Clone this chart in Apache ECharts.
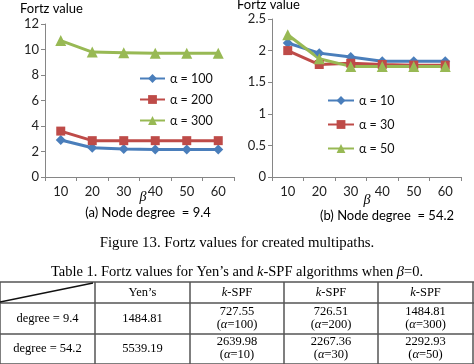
<!DOCTYPE html>
<html><head><meta charset="utf-8">
<script src="https://cdn.jsdelivr.net/npm/echarts@6/dist/echarts.min.js"></script>
<style>html,body{margin:0;padding:0;background:#fff}#c{width:474px;height:364px}</style>
</head><body><div id="c"></div>
<script>
const betas = ['10','20','30','40','50','60'];
const leftNames = ['α = 100','α = 200','α = 300'];
const leftA100 = [2.9, 2.3, 2.2, 2.15, 2.15, 2.15];
const leftA200 = [3.6, 2.85, 2.85, 2.85, 2.85, 2.85];
const leftA300 = [10.7, 9.8, 9.75, 9.7, 9.7, 9.7];
const rightNames = ['α = 10','α = 30','α = 50'];
const rightA10 = [2.12, 1.96, 1.9, 1.83, 1.83, 1.83];
const rightA30 = [2.0, 1.78, 1.8, 1.78, 1.77, 1.77];
const rightA50 = [2.25, 1.87, 1.75, 1.75, 1.75, 1.75];
const tableHead = ['', 'Yen’s', 'k-SPF', 'k-SPF', 'k-SPF'];
const rowLabels = ['degree = 9.4', 'degree = 54.2'];
const yensVals = ['1484.81', '5539.19'];
const kspfVals = [['727.55','726.51','1484.81'],['2639.98','2267.36','2292.93']];
const kspfAlphas = [['α=100','α=200','α=300'],['α=10','α=30','α=50']];

const colors = ['#4a7ebb', '#be4b48', '#98b954'];
const symbols = ['diamond', 'rect', 'triangle'];
const sans = 'Lato, "Open Sans", sans-serif';
const serif = '"Liberation Serif", "DejaVu Serif", serif';
const tf = '12.5px ';

function mkSeries(name, data, i, idx) {
  return {type:'line', name, data, xAxisIndex: idx, yAxisIndex: idx, color: colors[i],
    symbol: symbols[i], symbolSize: i===1?9:(i===2?11:10), lineStyle:{width:3}, itemStyle:{color: colors[i]},
    animation:false};
}
const axisCommon = {
  axisLine:{show:true, lineStyle:{color:'#868686', width:1}},
  axisTick:{show:true, length:4, lineStyle:{color:'#868686'}},
  splitLine:{show:false},
  axisLabel:{color:'#222', fontFamily:sans, fontSize:13}
};
const xAx = (gi) => Object.assign({type:'category', gridIndex:gi, data:betas, boundaryGap:true}, JSON.parse(JSON.stringify(axisCommon)));
const yAx = (gi, max, interval) => { const o = Object.assign({type:'value', gridIndex:gi, min:0, max, interval}, JSON.parse(JSON.stringify(axisCommon))); o.axisLabel.margin=6; return o; };

const tableTop = 282, rowH = [21, 31, 30];
const colX = [0, 95, 190, 284, 378, 473];
const gfx = [];
function txt(x, y, s, opt) {
  gfx.push({type:'text', x, y, style:Object.assign({text:s, fill:'#000', font:tf+serif, textAlign:'center', textVerticalAlign:'middle'}, opt||{})});
}
function rich(x, y, s, size) {
  gfx.push({type:'text', x, y, style:{rich:{n:{font:size+'px '+serif, fill:'#000'}, i:{font:'italic '+size+'px '+serif, fill:'#000'}}, text:s, textAlign:'center', textVerticalAlign:'middle'}});
}
txt(237, 243, 'Figure 13. Fortz values for created multipaths.', {font:'14.8px '+serif});
rich(237, 272, '{n|Table 1. Fortz values for Yen’s and }{i|k}{n|-SPF algorithms when }{i|β}{n|=0.}', 14.5);
txt(148, 213, '(a) Node degree  = 9.4', {font:'13px '+sans});
txt(387, 216, '(b) Node degree  = 54.2', {font:'13px '+sans});
txt(20, 9, 'Fortz value', {font:'13px '+sans, textAlign:'left'});
txt(237, 5, 'Fortz value', {font:'13px '+sans, textAlign:'left'});
txt(143, 197, 'β', {font:'italic 14px '+serif});
txt(367, 200, 'β', {font:'italic 14px '+serif});

let ys = [tableTop]; rowH.forEach(h => ys.push(ys[ys.length-1]+h));
ys.forEach(y => gfx.push({type:'line', shape:{x1:0,y1:y,x2:474,y2:y}, style:{stroke:'#555', lineWidth:1.5}}));
colX.forEach(x => gfx.push({type:'line', shape:{x1:x,y1:ys[0],x2:x,y2:ys[3]}, style:{stroke:'#555', lineWidth:1.5}}));
gfx.push({type:'line', shape:{x1:0,y1:ys[1]-1,x2:93,y2:ys[0]+1}, style:{stroke:'#111', lineWidth:1.5}});
const cx = i => (colX[i]+colX[i+1])/2;
for (let c=1;c<5;c++) {
  const h = tableHead[c];
  if (h.startsWith('k-')) rich(cx(c), (ys[0]+ys[1])/2, '{i|k}{n|'+h.slice(1)+'}', 12.5);
  else txt(cx(c), (ys[0]+ys[1])/2, h);
}
for (let r=0;r<2;r++) {
  const top = ys[r+1], bot = ys[r+2], mid=(top+bot)/2;
  txt(cx(0), mid, rowLabels[r]);
  txt(cx(1), mid, yensVals[r]);
  for (let k=0;k<3;k++) {
    txt(cx(k+2), mid-7, kspfVals[r][k]);
    rich(cx(k+2), mid+6, '{n|(}{i|α}{n|'+kspfAlphas[r][k].slice(1)+')}', 12.5);
  }
}

const chart = echarts.init(document.getElementById('c'), null, {renderer:'canvas'});
chart.setOption({
  animation:false,
  backgroundColor:'#fff',
  grid:[{left:45, top:24, width:189, height:153}, {left:272, top:19, width:189, height:158}],
  xAxis:[xAx(0), xAx(1)],
  yAxis:[yAx(0, 12, 2), yAx(1, 2.5, 0.5)],
  legend:[
    {data:leftNames, left:134, top:67, orient:'vertical', itemGap:8, itemWidth:25, itemHeight:11, textStyle:{fontFamily:sans, fontSize:12.5, color:'#111'}},
    {data:rightNames, left:322, top:89, orient:'vertical', itemGap:11, itemWidth:26, itemHeight:11, textStyle:{fontFamily:sans, fontSize:12.5, color:'#111'}}
  ],
  series:[
    mkSeries(leftNames[0], leftA100, 0, 0), mkSeries(leftNames[1], leftA200, 1, 0), mkSeries(leftNames[2], leftA300, 2, 0),
    mkSeries(rightNames[0], rightA10, 0, 1), mkSeries(rightNames[1], rightA30, 1, 1), mkSeries(rightNames[2], rightA50, 2, 1)
  ],
  graphic:gfx
});
</script></body></html>
